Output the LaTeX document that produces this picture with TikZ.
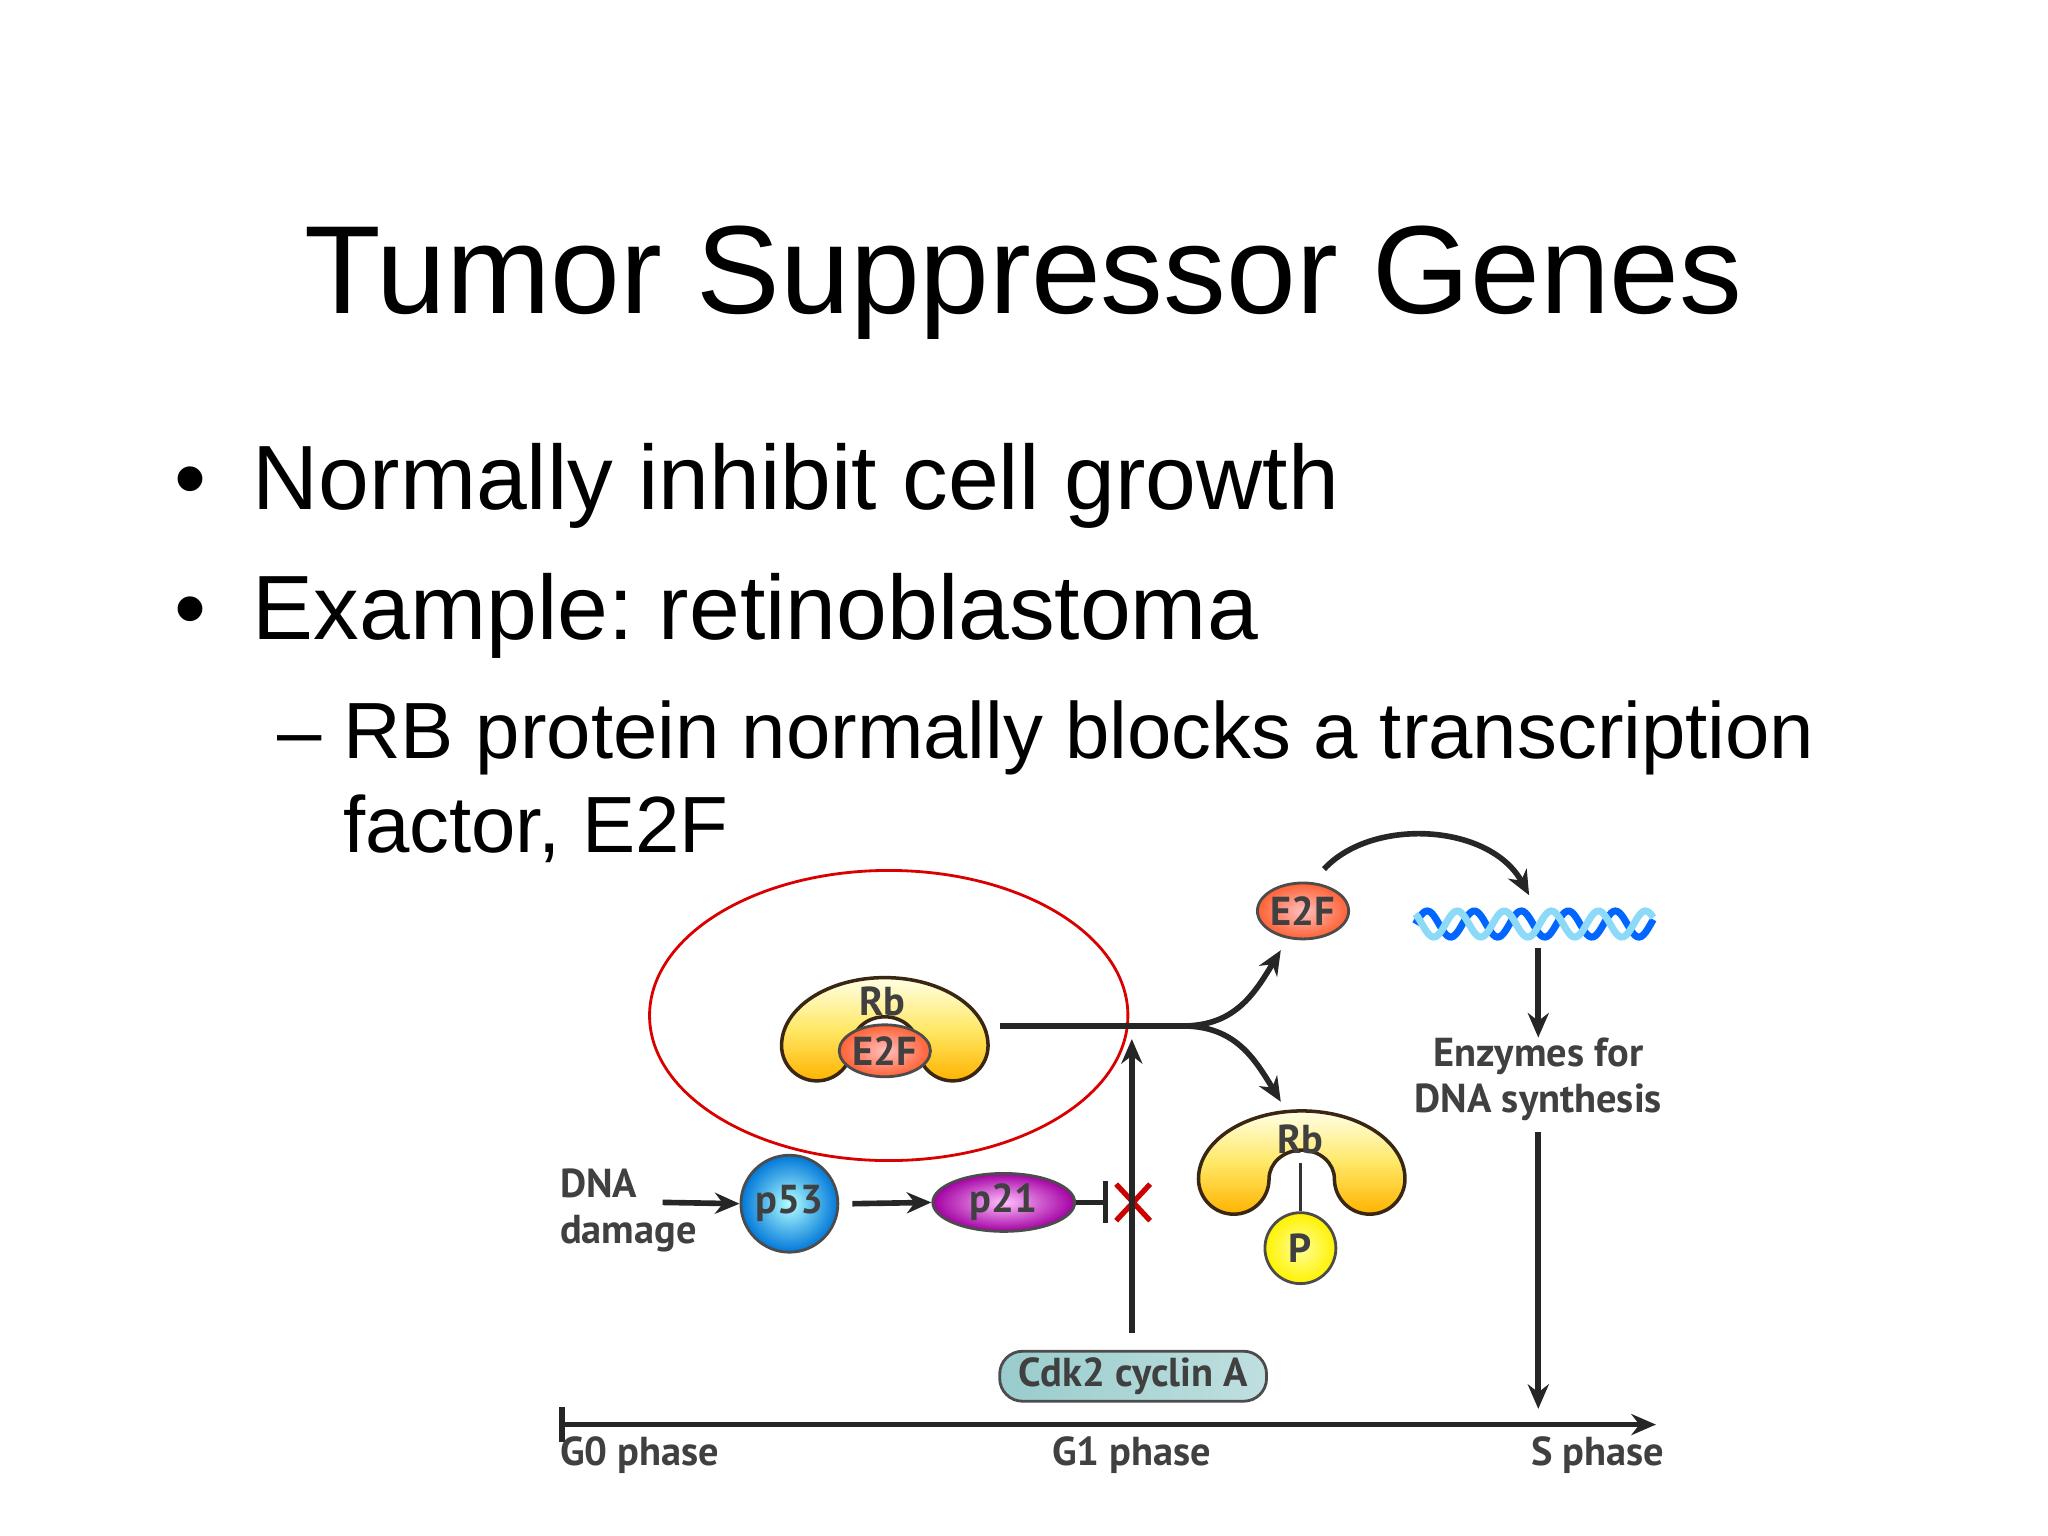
\documentclass[tikz,border=0pt]{standalone}
\usepackage{fontspec}
\setmainfont{Liberation Sans}
\newfontfamily\dfont{PT Sans}
\usetikzlibrary{arrows.meta,shapes.geometric}
\begin{document}
\frenchspacing
\begin{tikzpicture}[x=0.01307cm,y=0.01307cm,
  lbl/.style={font=\dfont\bfseries\fontsize{11.5}{13}\selectfont,text=black!75,inner sep=0},
  arr/.style={line width=1.6pt,black!85,-{Stealth[length=7pt,width=6pt]}},
  ln/.style={line width=1.6pt,black!85},
  mol/.style={draw=black!70,line width=0.8pt,inner sep=0,font=\dfont\bfseries\fontsize{11.5}{13}\selectfont,text=black!75},
  rbfill/.style={draw=black!70!brown,line width=1pt,top color=yellow!10!white,bottom color=orange!60!yellow,middle color=orange!30!yellow!60!white}]
\useasboundingbox (0,0) rectangle (1567,-1175);
% text
\node[anchor=base,inner sep=0,font=\fontsize{35.7}{40}\selectfont] (title) at (783,-240) {Tumor Suppressor Genes};
\node[anchor=base west,inner sep=0,font=\fontsize{26}{30}\selectfont] (b1) at (193,-390) {Normally inhibit cell growth};
\node[anchor=base,inner sep=0,font=\fontsize{26}{30}\selectfont] (d1) at (146,-390) {•};
\node[anchor=base west,inner sep=0,font=\fontsize{26}{30}\selectfont] (b2) at (193,-489) {Example: retinoblastoma};
\node[anchor=base,inner sep=0,font=\fontsize{26}{30}\selectfont] (d2) at (146,-489) {•};
\node[anchor=base west,inner sep=0,font=\fontsize{22.7}{27}\selectfont] (dash) at (212,-580) {–};
\node[anchor=base west,inner sep=0,font=\fontsize{22.7}{27}\selectfont] (s1) at (262,-580) {RB protein normally blocks a transcription};
\node[anchor=base west,inner sep=0,font=\fontsize{22.7}{27}\selectfont] (s2) at (262,-652) {factor, E2F};
% Rb-E2F complex
\path[rbfill] (598,-800) arc[start angle=180,end angle=0,x radius=79,y radius=52]
  arc[start angle=0,end angle=-180,radius=27] arc[start angle=0,end angle=180,x radius=25,y radius=22]
  arc[start angle=0,end angle=-180,radius=27] -- cycle;
\node[lbl] (rb1) at (675,-766) {Rb};
\node[mol,ellipse,inner color=red!25!white,outer color=red!55!orange!80!white,minimum width=0.78cm,minimum height=0.52cm] (e2f1) at (677,-804) {E2F};
\draw[red!85!black,line width=0.8pt] (680,-777) ellipse[x radius=183,y radius=111];
% branch
\coordinate (br) at (905,-785);
\node[mol,ellipse,inner color=red!25!white,outer color=red!55!orange!80!white,minimum width=0.9cm,minimum height=0.56cm] (e2f2) at (997,-697) {E2F};
\draw[ln] (765,-785) -- (br);
\coordinate (up) at (980,-727);
\coordinate (dn) at (980,-843);
\draw[arr] (br) .. controls (945,-785) and (960,-760) .. (up);
\draw[arr] (br) .. controls (945,-785) and (960,-810) .. (dn);
% DNA
\draw[blue!60!cyan,line width=2pt] plot[domain=1083:1265,samples=120] (\x,{-707+10*sin(10*(\x-1083))});
\draw[cyan!45!white,line width=2pt] plot[domain=1083:1265,samples=120] (\x,{-707+10*sin(10*(\x-1083)+130)});
\coordinate (dnaL) at (1013,-665);
\coordinate (dnaT) at (1170,-685);
\draw[arr] (dnaL) .. controls (1050,-625) and (1140,-630) .. (dnaT);
\node[lbl,align=center] (enz) at (1177,-826) {Enzymes for\\DNA synthesis};
\coordinate (dnab) at (1177,-725);
\draw[arr] (dnab) -- (enz.north);
\coordinate (sdn) at (1177,-1078);
\draw[arr] (enz.south) ++(0,-8) -- (sdn);
% Rb-P
\path[rbfill] (917,-902) arc[start angle=180,end angle=0,x radius=79,y radius=52]
  arc[start angle=0,end angle=-180,radius=27] arc[start angle=0,end angle=180,x radius=25,y radius=22]
  arc[start angle=0,end angle=-180,radius=27] -- cycle;
\node[lbl] (rb2) at (995,-872) {Rb};
\node[mol,circle,inner color=yellow!40!white,outer color=yellow!90!orange,minimum size=0.71cm] (P) at (995,-955) {P};
\draw[line width=1pt,black!80] (rb2.south) ++(0,-6) -- (P.north);
% p53 pathway
\node[lbl,align=left,anchor=west] (dd) at (428,-926) {DNA\\damage};
\node[mol,circle,inner color=cyan!30!white,outer color=blue!45!cyan!85!black,minimum size=0.97cm] (p53) at (604,-921) {p53};
\node[mol,ellipse,inner color=magenta!25!white,outer color=violet!50!magenta!85!black,minimum width=1.42cm,minimum height=0.58cm] (p21) at (768,-920) {p21};
\draw[arr] (507,-920) -- (p53.west);
\draw[arr] (p53.east) ++(10,0) -- (p21.west);
\coordinate (inh) at (848,-920);
\draw[ln,-{Bar[width=12pt]}] (p21.east) -- (inh);
\draw[red!80!black,line width=1.5pt] (854,-906) -- (880,-934) (854,-934) -- (880,-906);
% Cdk2
\node[mol,rounded corners=6.5pt,left color=teal!40!white,right color=teal!25!white,minimum width=2.67cm,minimum height=0.5cm] (cdk) at (867,-1053) {Cdk2 cyclin A};
\coordinate (cup) at (866,-795);
\draw[arr] (866,-1020) -- (cup);
% axis
\coordinate (ax0) at (428,-1090);
\coordinate (ax1) at (1267,-1090);
\draw[ln,{Bar[width=10pt]}-{Stealth[length=7pt,width=6pt]}] (ax0) -- (ax1);
\node[lbl,anchor=west] (g0) at (428,-1113) {G0 phase};
\node[lbl] (g1) at (866,-1113) {G1 phase};
\node[lbl,anchor=east] (sp) at (1274,-1113) {S phase};
\end{tikzpicture}
\end{document}
